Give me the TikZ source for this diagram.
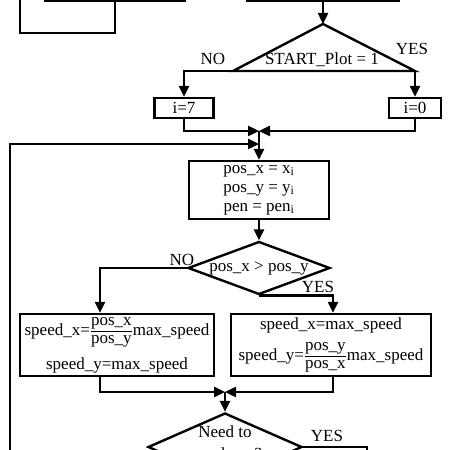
\documentclass[tikz,border=0pt]{standalone}
\usepackage{amsmath}
\usepackage{fontspec}
\setmainfont{Liberation Serif}
\usepackage{tikz}
\usetikzlibrary{arrows.meta, shapes.geometric, positioning}
\newcommand{\mainsize}{\fontsize{17}{19}\selectfont}
\newcommand{\ratio}[2]{$\dfrac{\raisebox{-1.5pt}{#1}}{\raisebox{3.5pt}{#2}}$}
\tikzset{
    rectanglenode/.style = {draw, rectangle, inner sep = 0em, node distance=0em, font=\mainsize},
    decisionnode/.style = {draw, diamond, inner sep = 0em, node distance=0em},
    textnode/.style  = {draw=none, fill=none, rectangle, inner sep = 0em, node distance=0em, font=\mainsize},
    pointnode/.style = {coordinate, node distance=0em},
    connect/.style = {black, -{Triangle[length=11pt, width=10pt]}},
    every text node part/.style={align=center}
}

\begin{document}
\begin{tikzpicture}[line width=2.4pt, node distance=0pt]
    \useasboundingbox (0,0) rectangle (450pt,450pt);
    \clip (0,0) rectangle (450pt,450pt);

    \node [name=setpos, rectanglenode, minimum width=140pt, minimum height=58pt] at (259pt,260pt)
        {pos\_x = x\textsubscript{i}\\pos\_y = y\textsubscript{i}\\pen = pen\textsubscript{i}};

    % boxes above the decision
    \node [name=leftbox, rectanglenode, minimum width=140pt, minimum height=40pt, 
        right of = setpos, xshift=-144pt, yshift=209pt] {};
    \node [name=plotbox, rectanglenode, minimum width=152pt, minimum height=40pt, 
        right of = setpos, xshift=64pt, yshift=209pt] {};
    \node [name=leftcorner, pointnode, right of = setpos, xshift=-239pt, yshift=157pt] {};
    \node [name=leftloop, pointnode, right of = setpos, xshift=-239pt, yshift=215pt] {};
    \draw (leftbox.south) |- (leftcorner) -- (leftloop);

    % START_Plot decision
    \node [name=tritop, pointnode, right of = setpos, xshift=64pt, yshift=166pt] {};
    \node [name=trileft, pointnode, right of = setpos, xshift=-26pt, yshift=119pt] {};
    \node [name=triright, pointnode, right of = setpos, xshift=156pt, yshift=119pt] {};
    \draw (tritop) -- (trileft) -- (triright) -- cycle;
    \node [name=plottext, textnode, right of = setpos, xshift=63pt, yshift=130pt] {START\_Plot = 1};
    \node [name=no1, textnode, right of = setpos, xshift=-46pt, yshift=131pt] {NO};
    \node [name=yes1, textnode, right of = setpos, xshift=153pt, yshift=141pt] {YES};
    \draw [connect] (plotbox.south) -- (tritop);

    \node [name=iseven, rectanglenode, minimum width=59pt, minimum height=20pt, 
        right of = setpos, xshift=-75pt, yshift=82pt] {i=7};
    \node [name=iszero, rectanglenode, minimum width=52pt, minimum height=20pt, 
        right of = setpos, xshift=156pt, yshift=82pt] {i=0};
    \draw [connect] (trileft) -| (iseven.north);
    \draw [connect] (triright) -- (iszero.north);

    \node [name=merge1, pointnode, right of = setpos, yshift=59pt] {};
    \node [name=loopend, pointnode, right of = setpos, yshift=46pt] {};
    \node [name=loopstart, pointnode, right of = setpos, xshift=-249pt, yshift=-290pt] {};
    \draw [connect] (iseven.south) |- (merge1);
    \draw [connect] (iszero.south) |- (merge1);
    \draw [connect] (merge1) -- (setpos.north);
    \draw [connect] (loopstart) |- (loopend);

    % pos_x > pos_y decision
    \node [name=compare, decisionnode, minimum width=142pt, minimum height=53pt, 
        right of = setpos, yshift=-78pt] {};
    \node [name=comparetext, textnode, right of = compare] {pos\_x > pos\_y};
    \node [name=no2, textnode, right of = setpos, xshift=-77pt, yshift=-70pt] {NO};
    \node [name=yes2, textnode, right of = setpos, xshift=59pt, yshift=-97pt] {YES};
    \draw [connect] (setpos.south) -- (compare.north);

    \node [name=speedx, rectanglenode, minimum width=194pt, minimum height=62pt, 
        right of = setpos, xshift=-142pt, yshift=-155pt] 
        {speed\_x=\ratio{pos\_x}{pos\_y}max\_speed\\[9pt]speed\_y=max\_speed};
    \node [name=speedy, rectanglenode, minimum width=200pt, minimum height=62pt, 
        right of = setpos, xshift=72pt, yshift=-155pt] 
        {speed\_x=max\_speed\\[8pt]speed\_y=\ratio{pos\_y}{pos\_x}max\_speed};
    \draw [connect] (compare.west) -| ([xshift=-17pt]speedx.north);
    \draw [connect] (compare.south) -| ([xshift=2pt]speedy.north);

    \node [name=merge2, pointnode, right of = setpos, xshift=-34pt, yshift=-202pt] {};
    \draw [connect] ([xshift=-17pt]speedx.south) |- (merge2);
    \draw [connect] ([xshift=2pt]speedy.south) |- (merge2);

    % Need to ... decision
    \node [name=needto, decisionnode, minimum width=154pt, minimum height=68pt, 
        right of = setpos, xshift=-34pt, yshift=-257pt] {};
    \node [name=needtext, textnode, right of = setpos, xshift=-34pt, yshift=-254pt] {Need to\\[3pt]pen down?};
    \node [name=yes3, textnode, right of = setpos, xshift=68pt, yshift=-246pt] {YES};
    \node [name=yesend, pointnode, right of = setpos, xshift=108pt, yshift=-290pt] {};
    \draw [connect] (merge2) -- (needto.north);
    \draw (needto.east) -| (yesend);
\end{tikzpicture}
\end{document}
